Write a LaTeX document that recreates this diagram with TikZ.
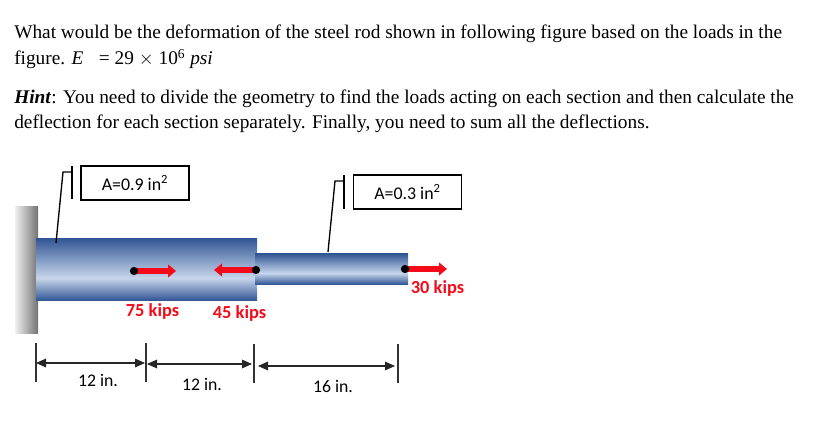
\documentclass[tikz,border=0pt]{standalone}
\usepackage{fontspec}
\setmainfont{Liberation Serif}
\newfontfamily\labelfont{Carlito}
\usetikzlibrary{arrows.meta}
\definecolor{rodedge}{RGB}{52,88,150}
\definecolor{rodlight}{RGB}{200,214,236}
\definecolor{loadred}{RGB}{245,10,25}
\pgfdeclareverticalshading{rodshade}{100bp}{color(0bp)=(rodedge); color(25bp)=(rodedge); color(43bp)=(rodlight); color(75bp)=(rodedge); color(100bp)=(rodedge)}
\tikzset{
    para/.style={anchor=base west, inner sep=0, font=\fontsize{14.5}{17}\selectfont},
    areabox/.style={draw, line width=0.9pt, inner sep=0, minimum height=25.5pt, font=\labelfont\fontsize{13.4}{15}\selectfont},
    loadtext/.style={inner sep=0, text=loadred, font=\labelfont\bfseries\fontsize{13.8}{16}\selectfont},
    dimtext/.style={inner sep=0, font=\labelfont\fontsize{13.3}{15}\selectfont},
    load/.style={loadred, line width=3.8pt, -{Triangle[length=6pt, width=9.5pt]}},
    dim/.style={line width=0.8pt, black!85, {Triangle[length=7.5pt, width=6.5pt]}-{Triangle[length=7.5pt, width=6.5pt]}},
    tick/.style={line width=0.8pt, black!80},
    leader/.style={line width=1pt}
}
\begin{document}
\begin{tikzpicture}[x=0.75pt, y=-0.75pt]
    \useasboundingbox (0,0) rectangle (818,431);
    \node [para] (line1) at (14,39) {What would be the deformation of the steel rod shown in following figure based on the loads in the};
    \node [para] (line2) at (14,65) {figure. \textit{E}\hspace{0.55em} = 29 $\times$ 10\textsuperscript{6} \textit{psi}};
    \node [para] (line3) at (14,104) {\textbf{\textit{Hint}}: You need to divide the geometry to find the loads acting on each section and then calculate the};
    \node [para] (line4) at (14,129) {deflection for each section separately. Finally, you need to sum all the deflections.};

    \shade [left color=black!6, right color=black!55] (15,207) rectangle (38,333);
    \shade [shading=rodshade] (36,239) rectangle (257,300);
    \shade [shading=rodshade] (255,254) rectangle (408,284);

    \node [areabox, minimum width=81pt] (areaA) at (135,183) {A=0.9 in\textsuperscript{2}};
    \node [areabox, minimum width=81.5pt] (areaB) at (407.5,192) {A=0.3 in\textsuperscript{2}};
    \coordinate (footA) at (56,243);
    \coordinate (kneeA) at (63,172);
    \coordinate (barA) at (72,172);
    \coordinate (barAtop) at (72,166);
    \coordinate (barAbot) at (72,199);
    \coordinate (footB) at (328,252);
    \coordinate (kneeB) at (335,181);
    \coordinate (barB) at (344,181);
    \coordinate (barBtop) at (344,175);
    \coordinate (barBbot) at (344,209);
    \draw [leader] (footA) -- (kneeA) -- (barA);
    \draw [leader] (barAtop) -- (barAbot);
    \draw [leader] (footB) -- (kneeB) -- (barB);
    \draw [leader] (barBtop) -- (barBbot);

    \coordinate (dotA) at (134,271);
    \coordinate (tipA) at (176,271);
    \coordinate (dotB) at (256,270);
    \coordinate (tipB) at (214,270);
    \coordinate (dotC) at (405,269);
    \coordinate (tipC) at (447,269);
    \draw [load] (dotA) -- (tipA);
    \draw [load] (dotB) -- (tipB);
    \draw [load] (dotC) -- (tipC);
    \fill (dotA) circle (3.1pt);
    \fill (dotB) circle (3.1pt);
    \fill (dotC) circle (3.1pt);
    \node [loadtext] (loadA) at (152.5,311) {75 kips};
    \node [loadtext] (loadB) at (239.5,313) {45 kips};
    \node [loadtext] (loadC) at (437.5,288) {30 kips};

    \foreach \name/\px/\py in {a/36/343, b/146/343, c/254/344, d/398/344} {
        \coordinate (tick\name top) at (\px,\py);
        \coordinate (tick\name bot) at (\px,\py+39);
        \draw [tick] (tick\name top) -- (tick\name bot);
    }
    \coordinate (dimAl) at (36,363);
    \coordinate (dimAr) at (145,363);
    \coordinate (dimBl) at (147,364);
    \coordinate (dimBr) at (252,364);
    \coordinate (dimCl) at (258,366);
    \coordinate (dimCr) at (395,366);
    \draw [dim] (dimAl) -- (dimAr);
    \draw [dim] (dimBl) -- (dimBr);
    \draw [dim] (dimCl) -- (dimCr);
    \node [dimtext] (lenA) at (98,380.5) {12 in.};
    \node [dimtext] (lenB) at (202,384) {12 in.};
    \node [dimtext] (lenC) at (333,386.5) {16 in.};
\end{tikzpicture}
\end{document}
